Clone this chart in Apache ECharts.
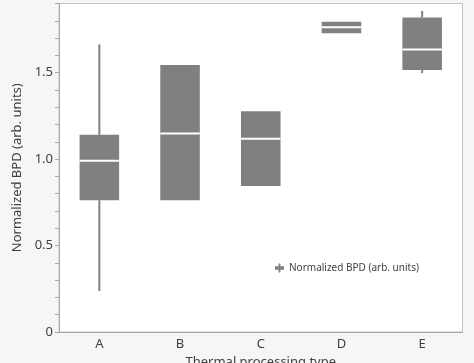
<!DOCTYPE html>
<html>
<head>
<meta charset="utf-8">
<script src="https://cdn.jsdelivr.net/npm/echarts@6/dist/echarts.min.js"></script>
<style>
html,body{margin:0;padding:0;background:#f6f6f6;}
#chart{width:474px;height:363px;}
</style>
</head>
<body>
<div id="chart"></div>
<script>
const categories = ['A', 'B', 'C', 'D', 'E'];
const lowVals    = [0.237, 0.762, 0.845, 1.728, 1.497];
const q1Vals     = [0.762, 0.762, 0.845, 1.728, 1.516];
const medianVals = [0.99, 1.148, 1.118, 1.762, 1.634];
const q3Vals     = [1.141, 1.545, 1.277, 1.795, 1.819];
const highVals   = [1.663, 1.545, 1.277, 1.795, 1.857];
const yTickLabels = ['0', '0.5', '1.0', '1.5'];
const seriesName = 'Normalized BPD (arb. units)';

const data = categories.map((c, i) => [i, lowVals[i], q1Vals[i], medianVals[i], q3Vals[i], highVals[i]]);

const chart = echarts.init(document.getElementById('chart'));
const fontFam = '"Noto Sans", "Open Sans", sans-serif';
const gray = '#808080';

chart.setOption({
  backgroundColor: '#f6f6f6',
  animation: false,
  grid: {
    left: 59, right: 11.5, top: 3.5, bottom: 31,
    containLabel: false, outerBoundsMode: 'none',
    show: true, backgroundColor: '#ffffff', borderColor: '#c4c4c4', borderWidth: 1
  },
  legend: {
    left: 270, top: 258,
    itemWidth: 9, itemHeight: 9, itemGap: 5,
    textStyle: {fontFamily: fontFam, fontSize: 10, color: '#404040'},
    data: [{name: seriesName, icon: 'path://M4,0 L6,0 L6,3 L10,3 L10,7 L6,7 L6,10 L4,10 L4,7 L0,7 L0,3 L4,3 Z'}]
  },
  xAxis: {
    type: 'category',
    data: categories,
    boundaryGap: true,
    axisLine: {lineStyle: {color: '#a8a8a8', width: 1}},
    axisTick: {show: false},
    axisLabel: {fontFamily: fontFam, fontSize: 13, color: '#404040', margin: 6},
    name: 'Thermal processing type',
    nameLocation: 'middle',
    nameGap: 23,
    nameTextStyle: {fontFamily: fontFam, fontSize: 13, color: '#404040'}
  },
  yAxis: {
    type: 'value',
    min: 0, max: 1.9, interval: 0.1,
    splitLine: {show: false},
    axisLine: {show: true, lineStyle: {color: '#a8a8a8', width: 1}},
    axisTick: {show: true, length: 4, lineStyle: {color: '#a8a8a8'}},
    axisLabel: {
      fontFamily: fontFam, fontSize: 13, color: '#404040', margin: 6,
      formatter: function (v) {
        const k = Math.round(v * 10);
        if (k % 5 !== 0) return '';
        const lbl = k === 0 ? '0' : (k / 10).toFixed(1);
        return yTickLabels.indexOf(lbl) >= 0 ? lbl : '';
      }
    },
    name: seriesName,
    nameLocation: 'middle',
    nameGap: 31,
    nameTextStyle: {fontFamily: fontFam, fontSize: 13, color: '#404040'}
  },
  series: [{
    name: seriesName,
    type: 'custom',
    itemStyle: {color: gray},
    data: data,
    encode: {x: 0, y: [1, 2, 3, 4, 5]},
    renderItem: function (params, api) {
      const idx = api.value(0);
      const bw = api.size([1, 0])[0] * 0.49;
      const low = api.coord([idx, api.value(1)]);
      const q1 = api.coord([idx, api.value(2)]);
      const med = api.coord([idx, api.value(3)]);
      const q3 = api.coord([idx, api.value(4)]);
      const high = api.coord([idx, api.value(5)]);
      const cx = low[0];
      const children = [];
      if (high[1] < q3[1]) {
        children.push({type: 'line', shape: {x1: cx, y1: high[1], x2: cx, y2: q3[1]}, style: {stroke: gray, lineWidth: 2}});
      }
      if (low[1] > q1[1]) {
        children.push({type: 'line', shape: {x1: cx, y1: q1[1], x2: cx, y2: low[1]}, style: {stroke: gray, lineWidth: 2}});
      }
      children.push({type: 'rect', shape: {x: cx - bw / 2, y: q3[1], width: bw, height: q1[1] - q3[1]}, style: {fill: gray, stroke: null}});
      children.push({type: 'line', shape: {x1: cx - bw / 2, y1: med[1], x2: cx + bw / 2, y2: med[1]}, style: {stroke: '#ffffff', lineWidth: 2}});
      return {type: 'group', children: children};
    }
  }]
});
</script>
</body>
</html>
